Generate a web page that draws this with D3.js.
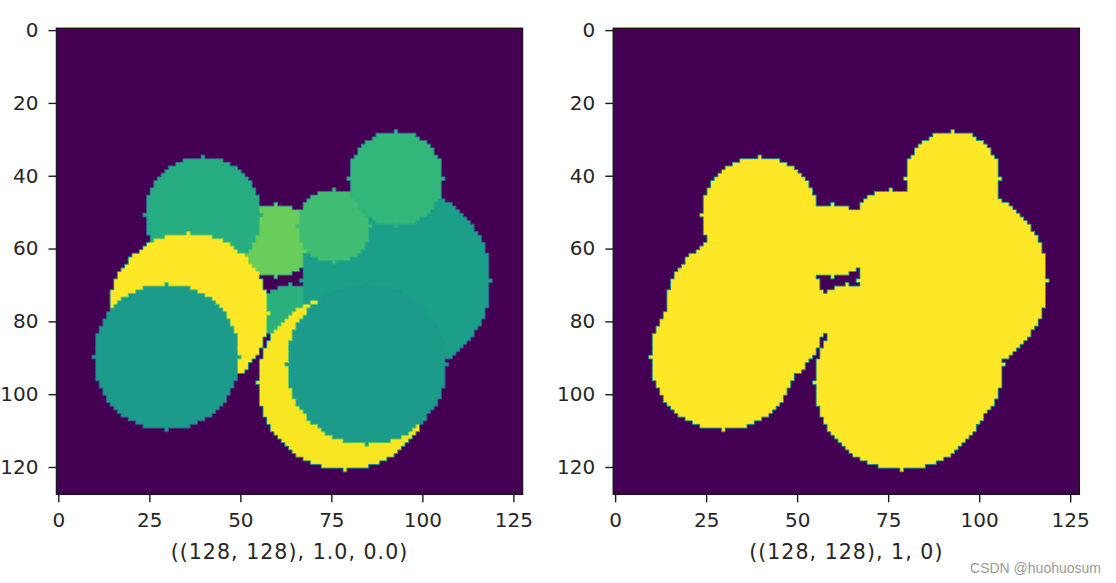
<!DOCTYPE html>
<html>
<head>
<meta charset="utf-8">
<script src="https://cdn.jsdelivr.net/npm/d3@7"></script>
<style>
  html, body { margin: 0; padding: 0; background: #fff; }
  svg { display: block; }
  text { font-family: "DejaVu Sans", sans-serif; fill: #262626; }
</style>
</head>
<body>
<script>
// Circles in the image, in paint order (later ones cover earlier ones)
var circleX     = [60, 40, 64, 93, 76, 93, 36, 30, 79, 85];
var circleY     = [58, 51, 78, 69, 54, 41, 78, 90, 97, 92];
var circleR     = [10, 16,  8, 26, 10, 13, 22, 20, 24, 22];
var circleValue = [0.77, 0.62, 0.64, 0.56, 0.69, 0.66, 1.0, 0.54, 0.99, 0.54];

var imageSize = 128;
var xTickValues = [0, 25, 50, 75, 100, 125];
var yTickValues = [0, 20, 40, 60, 80, 100, 120];
var panelLabels = ["((128, 128), 1.0, 0.0)", "((128, 128), 1, 0)"];
var watermark = "CSDN @huohuosum";

var svgWidth = 1116;
var svgHeight = 583;
var panelLefts = [56.5, 613.3];
var panelTop = 28.3;
var panelSize = 466;

var color = d3.scaleSequential(d3.interpolateViridis).domain([0, 1]);

// paint the circles into the image grid
var grid = d3.range(imageSize).map(function (row) {
  return d3.range(imageSize).map(function (col) {
    var value = 0;
    circleX.forEach(function (cx, k) {
      var dx = col - cx, dy = row - circleY[k];
      if (dx * dx + dy * dy <= circleR[k] * circleR[k]) value = circleValue[k];
    });
    return value;
  });
});

// right panel is the mask of the left one
var mask = grid.map(function (line) {
  return line.map(function (v) { return v > 0 ? 1 : 0; });
});

var svg = d3.select("body")
  .append("svg")
  .attr("width", svgWidth)
  .attr("height", svgHeight);

var defs = svg.append("defs");
defs.append("filter")
  .attr("id", "soft")
  .attr("x", "-2%").attr("y", "-2%").attr("width", "104%").attr("height", "104%")
  .append("feGaussianBlur")
  .attr("stdDeviation", 0.65);

function drawPanel(data, left, label, index) {
  var x = d3.scaleLinear().domain([-0.5, imageSize - 0.5]).range([0, panelSize]);
  var y = d3.scaleLinear().domain([-0.5, imageSize - 0.5]).range([0, panelSize]);

  // the picture sits a little up and left of the tick positions in the reference
  var cellX = d3.scaleLinear().domain([-0.5, imageSize - 0.5]).range([-1, panelSize - 1]);
  var cellY = d3.scaleLinear().domain([-0.5, imageSize - 0.5]).range([-0.7, panelSize - 0.7]);

  var panel = svg.append("g")
    .attr("transform", `translate(${left}, ${panelTop})`);

  defs.append("clipPath").attr("id", "clip" + index)
    .append("rect")
    .attr("width", panelSize)
    .attr("height", panelSize);

  panel.append("rect")
    .attr("width", panelSize)
    .attr("height", panelSize)
    .attr("fill", color(0));

  // horizontal runs of equal value
  var runs = [];
  data.forEach(function (line, row) {
    var start = 0;
    for (var col = 1; col <= imageSize; col++) {
      if (col === imageSize || line[col] !== line[start]) {
        if (line[start] > 0) runs.push({ row: row, start: start, end: col - 1, value: line[start] });
        start = col;
      }
    }
  });

  // cell borders get the in-between value, like the interpolated image does
  var edgesV = [], edgesH = [];
  data.forEach(function (line, row) {
    line.forEach(function (v, col) {
      if (col + 1 < imageSize && line[col + 1] !== v) edgesV.push({ row: row, col: col, value: (v + line[col + 1]) / 2 });
      if (row + 1 < imageSize && data[row + 1][col] !== v) edgesH.push({ row: row, col: col, value: (v + data[row + 1][col]) / 2 });
    });
  });

  var image = panel.append("g")
    .attr("clip-path", `url(#clip${index})`)
    .append("g")
    .attr("filter", "url(#soft)");

  image.selectAll(".run")
    .data(runs)
    .enter()
    .append("rect")
    .attr("class", "run")
    .attr("shape-rendering", "crispEdges")
    .attr("x", d => cellX(d.start - 0.5))
    .attr("y", d => cellY(d.row - 0.5))
    .attr("width", d => cellX(d.end + 0.5) - cellX(d.start - 0.5))
    .attr("height", cellY(1) - cellY(0))
    .attr("fill", d => color(d.value));

  var edgeSize = 1.0;

  image.selectAll(".edgeV")
    .data(edgesV)
    .enter()
    .append("rect")
    .attr("class", "edgeV")
    .attr("x", d => cellX(d.col + 0.5) - edgeSize / 2)
    .attr("y", d => cellY(d.row - 0.5))
    .attr("width", edgeSize)
    .attr("height", cellY(1) - cellY(0))
    .attr("fill", d => color(d.value));

  image.selectAll(".edgeH")
    .data(edgesH)
    .enter()
    .append("rect")
    .attr("class", "edgeH")
    .attr("x", d => cellX(d.col - 0.5))
    .attr("y", d => cellY(d.row + 0.5) - edgeSize / 2)
    .attr("width", cellX(1) - cellX(0))
    .attr("height", edgeSize)
    .attr("fill", d => color(d.value));

  // axes
  var bottomAxis = d3.axisBottom(x).tickValues(xTickValues).tickSize(8).tickPadding(11).tickSizeOuter(0);
  var leftAxis = d3.axisLeft(y).tickValues(yTickValues).tickSize(8).tickPadding(10).tickSizeOuter(0);

  var xAxis = panel.append("g")
    .attr("transform", `translate(0, ${panelSize})`)
    .call(bottomAxis);
  var yAxis = panel.append("g").call(leftAxis);

  [xAxis, yAxis].forEach(function (axis) {
    axis.select(".domain").remove();
    axis.selectAll("line").attr("stroke", "#1a1a1a").attr("stroke-width", 1.4);
    axis.selectAll("text").attr("font-size", 20).attr("font-family", "DejaVu Sans").attr("fill", "#262626");
  });

  panel.append("rect")
    .attr("width", panelSize)
    .attr("height", panelSize)
    .attr("fill", "none")
    .attr("stroke", "#1a1a1a")
    .attr("stroke-width", 1.5);

  panel.append("text")
    .attr("x", panelSize / 2)
    .attr("y", panelSize + 65)
    .attr("text-anchor", "middle")
    .attr("font-size", 20.5)
    .attr("letter-spacing", 1.05)
    .text(label);
}

drawPanel(grid, panelLefts[0], panelLabels[0], 0);
drawPanel(mask, panelLefts[1], panelLabels[1], 1);

svg.append("text")
  .attr("x", 1101)
  .attr("y", 573)
  .attr("text-anchor", "end")
  .attr("font-size", 14)
  .style("font-family", "'Liberation Sans', sans-serif")
  .style("fill", "#9a9a9a")
  .text(watermark);
</script>
</body>
</html>
